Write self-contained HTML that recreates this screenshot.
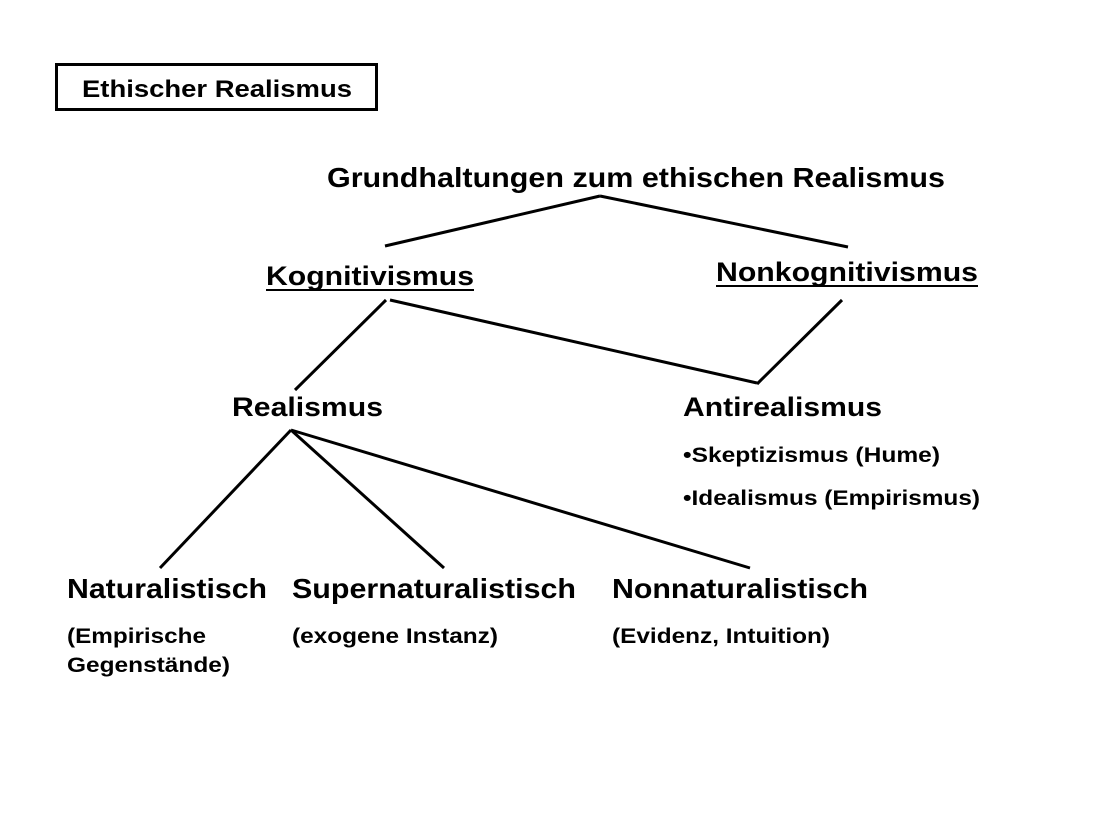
<!DOCTYPE html>
<html><head><meta charset="utf-8"><style>
body{margin:0;background:#fff}
svg{display:block}
text{font-family:"Liberation Sans",Arial,sans-serif;font-weight:bold;fill:#000}
</style></head><body>
<svg width="1100" height="825" viewBox="0 0 1100 825">
<rect x="56.5" y="64.5" width="320" height="45" fill="none" stroke="#000" stroke-width="3"/>
<text x="82" y="97" font-size="24" textLength="270" lengthAdjust="spacingAndGlyphs">Ethischer Realismus</text>
<text x="327" y="187" font-size="28" textLength="618" lengthAdjust="spacingAndGlyphs">Grundhaltungen zum ethischen Realismus</text>
<g stroke="#000" stroke-width="3" fill="none">
<line x1="600" y1="196" x2="385" y2="246"/>
<line x1="600" y1="196" x2="848" y2="247"/>
<line x1="386" y1="300" x2="295" y2="390"/>
<line x1="390" y1="300" x2="757" y2="383"/>
<line x1="842" y1="300" x2="757" y2="384"/>
<line x1="291" y1="430" x2="160" y2="568"/>
<line x1="291" y1="430" x2="444" y2="568"/>
<line x1="291" y1="430" x2="750" y2="568"/>
<line x1="266" y1="290" x2="474" y2="290" stroke-width="2"/>
<line x1="716" y1="286" x2="978" y2="286" stroke-width="2"/>
</g>
<text x="266" y="285" font-size="27" textLength="208" lengthAdjust="spacingAndGlyphs">Kognitivismus</text>
<text x="716" y="281" font-size="27" textLength="262" lengthAdjust="spacingAndGlyphs">Nonkognitivismus</text>
<text x="232" y="416" font-size="27" textLength="151" lengthAdjust="spacingAndGlyphs">Realismus</text>
<text x="683" y="416" font-size="27" textLength="199" lengthAdjust="spacingAndGlyphs">Antirealismus</text>
<text x="683" y="462" font-size="21" textLength="257" lengthAdjust="spacingAndGlyphs">•Skeptizismus (Hume)</text>
<text x="683" y="505" font-size="21" textLength="297" lengthAdjust="spacingAndGlyphs">•Idealismus (Empirismus)</text>
<text x="67" y="598" font-size="28" textLength="200" lengthAdjust="spacingAndGlyphs">Naturalistisch</text>
<text x="292" y="598" font-size="28" textLength="284" lengthAdjust="spacingAndGlyphs">Supernaturalistisch</text>
<text x="612" y="598" font-size="28" textLength="256" lengthAdjust="spacingAndGlyphs">Nonnaturalistisch</text>
<text x="67" y="643" font-size="21" textLength="139" lengthAdjust="spacingAndGlyphs">(Empirische</text>
<text x="67" y="672" font-size="21" textLength="163" lengthAdjust="spacingAndGlyphs">Gegenstände)</text>
<text x="292" y="643" font-size="21" textLength="206" lengthAdjust="spacingAndGlyphs">(exogene Instanz)</text>
<text x="612" y="643" font-size="21" textLength="218" lengthAdjust="spacingAndGlyphs">(Evidenz, Intuition)</text>
</svg>
</body></html>
